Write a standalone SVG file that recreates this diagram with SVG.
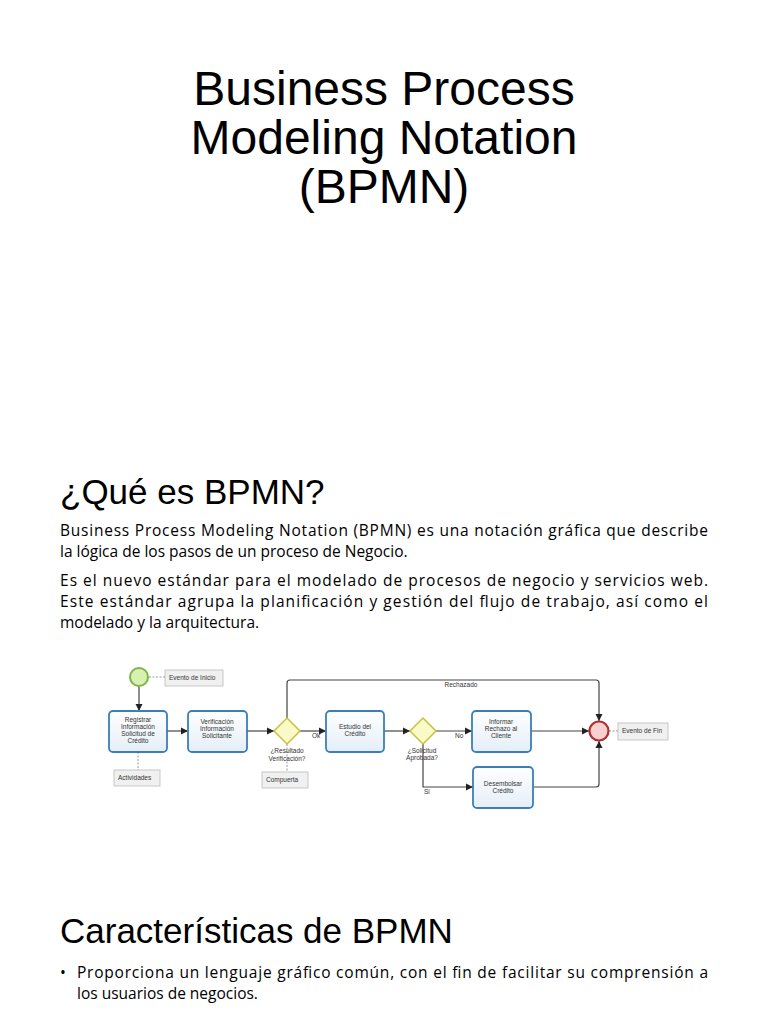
<svg xmlns="http://www.w3.org/2000/svg" width="768" height="1024" viewBox="0 0 768 1024">
<defs>
<marker id="a" viewBox="0 0 10 10" refX="10" refY="5" markerWidth="6" markerHeight="6" orient="auto"><path d="M0,0L10,5L0,10z" fill="#222"/></marker>
<linearGradient id="tg" x1="0" y1="0" x2="0" y2="1"><stop offset="0" stop-color="#fff"/><stop offset="1" stop-color="#e4eef8"/></linearGradient>
</defs>
<style>
.h{font-family:"Liberation Sans",Arial,sans-serif;fill:#000}
.b{font-family:"Open Sans","DejaVu Sans",sans-serif;font-size:15.5px;fill:#000}
.s{font-family:"Liberation Sans",Arial,sans-serif;font-size:6.5px;fill:#333;text-anchor:middle}
.sl{font-family:"Liberation Sans",Arial,sans-serif;font-size:6.5px;fill:#333}
.t{fill:url(#tg);stroke:#3a7fb5;stroke-width:1.8}
.c{fill:none;stroke:#444;stroke-width:1.2}
.d{fill:none;stroke:#999;stroke-width:1;stroke-dasharray:2,1.5}
.lb{fill:#f0f0f0;stroke:#bbb;stroke-width:0.8}
</style>
<rect width="768" height="1024" fill="#fff"/>
<text class="h" font-size="48" text-anchor="middle"><tspan x="384" y="105">Business Process</tspan><tspan x="384" y="154">Modeling Notation</tspan><tspan x="384" y="203">(BPMN)</tspan></text>
<text class="h" font-size="35" x="60" y="504">¿Qué es BPMN?</text>
<text class="b"><tspan x="60" y="536" textLength="648" lengthAdjust="spacing">Business Process Modeling Notation (BPMN) es una notación gráfica que describe</tspan><tspan x="60" y="557">la lógica de los pasos de un proceso de Negocio.</tspan><tspan x="60" y="586" textLength="648" lengthAdjust="spacing">Es el nuevo estándar para el modelado de procesos de negocio y servicios web.</tspan><tspan x="60" y="607" textLength="648" lengthAdjust="spacing">Este estándar agrupa la planificación y gestión del flujo de trabajo, así como el</tspan><tspan x="60" y="628">modelado y la arquitectura.</tspan></text>
<g id="connectors">
<path class="c" d="M139,687V711" marker-end="url(#a)"/>
<path class="c" d="M167,731H188" marker-end="url(#a)"/>
<path class="c" d="M247,731H274" marker-end="url(#a)"/>
<path class="c" d="M300,731H326" marker-end="url(#a)"/>
<path class="c" d="M384,731H410" marker-end="url(#a)"/>
<path class="c" d="M436,731H472" marker-end="url(#a)"/>
<path class="c" d="M531,731H589" marker-end="url(#a)"/>
<path class="c" d="M287,718V683Q287,680 290,680H596Q599,680 599,683V721" marker-end="url(#a)"/>
<path class="c" d="M423,744V787H473" marker-end="url(#a)"/>
<path class="c" d="M533,787H596Q599,787 599,784V741" marker-end="url(#a)"/>
<path class="d" d="M149,677H165M138,752V770M287,744V772M609,731H618"/>
</g>
<text class="s" x="461" y="687">Rechazado</text>
<text class="sl" x="312" y="738">Ok</text>
<text class="sl" x="455" y="738">No</text>
<text class="sl" x="424" y="794">Si</text>
<g id="start"><circle cx="139" cy="677" r="9" fill="#d8f0b0" stroke="#7ab648" stroke-width="2"/></g>
<g id="lblStart"><rect class="lb" x="165" y="670" width="58" height="16"/><text class="sl" x="169" y="680">Evento de Inicio</text></g>
<g id="t1"><rect class="t" x="109" y="711" width="58" height="41" rx="4"/><text class="s"><tspan x="138" y="722">Registrar</tspan><tspan x="138" y="729">Información</tspan><tspan x="138" y="736">Solicitud de</tspan><tspan x="138" y="743">Crédito</tspan></text></g>
<g id="t2"><rect class="t" x="188" y="711" width="59" height="41" rx="4"/><text class="s"><tspan x="217" y="724">Verificación</tspan><tspan x="217" y="731">Información</tspan><tspan x="217" y="738">Solicitante</tspan></text></g>
<g id="g1"><path d="M287,718L300,731L287,744L274,731z" fill="#fafac8" stroke="#c8c040" stroke-width="1.5"/><text class="s"><tspan x="287" y="753">¿Resultado</tspan><tspan x="287" y="761">Verificación?</tspan></text></g>
<g id="t3"><rect class="t" x="326" y="711" width="58" height="41" rx="4"/><text class="s"><tspan x="355" y="729">Estudio del</tspan><tspan x="355" y="736">Crédito</tspan></text></g>
<g id="g2"><path d="M423,718L436,731L423,744L410,731z" fill="#fafac8" stroke="#c8c040" stroke-width="1.5"/><text class="s"><tspan x="422" y="753">¿Solicitud</tspan><tspan x="422" y="760">Aprobada?</tspan></text></g>
<g id="t4"><rect class="t" x="472" y="711" width="59" height="41" rx="4"/><text class="s"><tspan x="501" y="724">Informar</tspan><tspan x="501" y="731">Rechazo al</tspan><tspan x="501" y="738">Cliente</tspan></text></g>
<g id="t5"><rect class="t" x="473" y="767" width="60" height="41" rx="4"/><text class="s"><tspan x="503" y="786">Desembolsar</tspan><tspan x="503" y="793">Crédito</tspan></text></g>
<g id="end"><circle cx="599" cy="731" r="9.5" fill="#f8d0d0" stroke="#b03030" stroke-width="2.2"/></g>
<g id="lblEnd"><rect class="lb" x="618" y="723" width="50" height="17"/><text class="sl" x="622" y="733">Evento de Fin</text></g>
<g id="lblAct"><rect class="lb" x="114" y="770" width="46" height="16"/><text class="sl" x="118" y="780">Actividades</text></g>
<g id="lblComp"><rect class="lb" x="262" y="772" width="46" height="16"/><text class="sl" x="266" y="782">Compuerta</text></g>
<text class="h" font-size="35" x="60" y="943">Características de BPMN</text>
<text class="b"><tspan x="60" y="978">•</tspan><tspan x="77" y="978" textLength="631" lengthAdjust="spacing">Proporciona un lenguaje gráfico común, con el fin de facilitar su comprensión a</tspan><tspan x="77" y="999">los usuarios de negocios.</tspan></text>
</svg>
